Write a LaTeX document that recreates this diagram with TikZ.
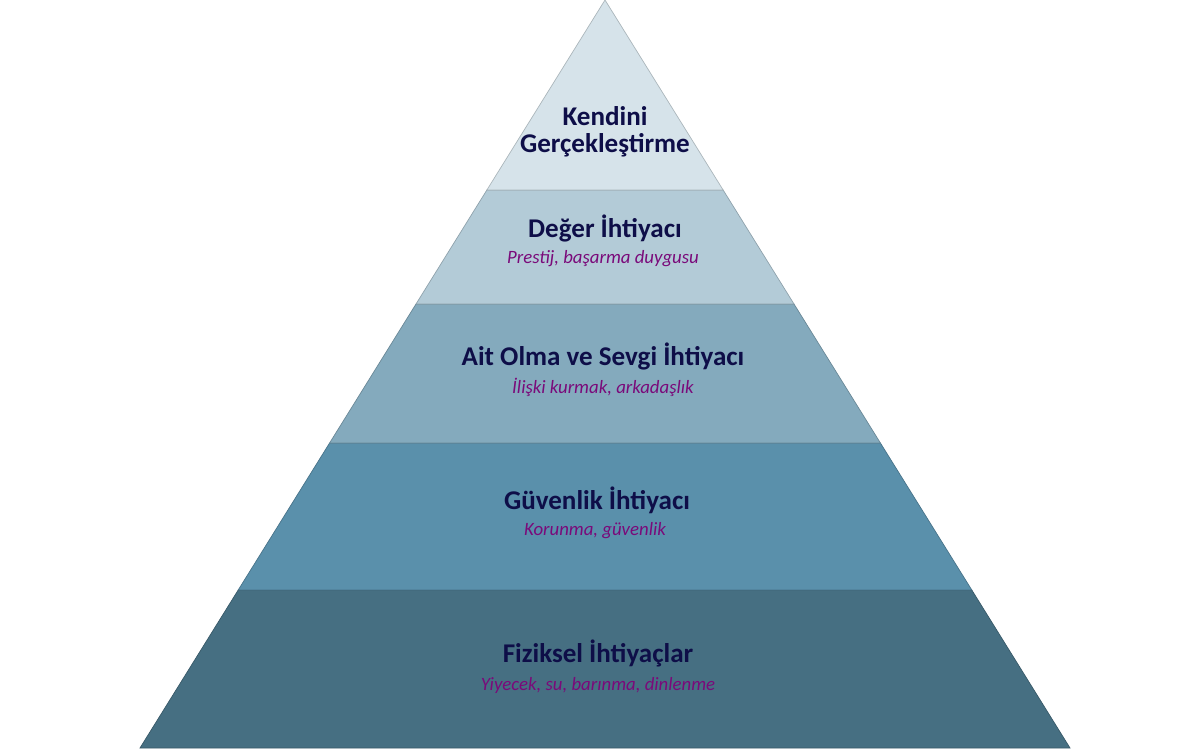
\documentclass[tikz,border=0pt]{standalone}
\usepackage{fontspec}
\setmainfont{Carlito}
\usetikzlibrary{positioning,calc}
\definecolor{levelA}{HTML}{D6E3EA}
\definecolor{levelB}{HTML}{B3CBD7}
\definecolor{levelC}{HTML}{84AABD}
\definecolor{levelD}{HTML}{5A90AB}
\definecolor{levelE}{HTML}{466F82}
\definecolor{titleblue}{HTML}{0E0E48}
\definecolor{notepurple}{HTML}{7A0A7A}
\tikzstyle{layer} = [draw=black!20!#1,line width=0.4pt,fill=#1]
\tikzstyle{title} = [font=\bfseries\fontsize{15.4}{15.4}\selectfont,text=titleblue,align=center,inner sep=0pt]
\tikzstyle{note} = [font=\itshape\fontsize{10.7}{12}\selectfont,text=notepurple,inner sep=0pt]

\begin{document}
\begin{tikzpicture}[x=0.02cm,y=-0.02cm]
    \useasboundingbox (0,0) rectangle (1200,749);
    % corners of the pyramid
    \coordinate (apex) at (605,0);
    \coordinate (bl) at (140,748);
    \coordinate (br) at (1070,748);

    \path[layer=levelE] ($(apex)!590/748!(bl)$) -- ($(apex)!590/748!(br)$) -- (br) -- (bl) -- cycle;
    \path[layer=levelD] ($(apex)!443/748!(bl)$) -- ($(apex)!443/748!(br)$) -- ($(apex)!590/748!(br)$) -- ($(apex)!590/748!(bl)$) -- cycle;
    \path[layer=levelC] ($(apex)!304/748!(bl)$) -- ($(apex)!304/748!(br)$) -- ($(apex)!443/748!(br)$) -- ($(apex)!443/748!(bl)$) -- cycle;
    \path[layer=levelB] ($(apex)!190/748!(bl)$) -- ($(apex)!190/748!(br)$) -- ($(apex)!304/748!(br)$) -- ($(apex)!304/748!(bl)$) -- cycle;
    \path[layer=levelA] (apex) -- ($(apex)!190/748!(br)$) -- ($(apex)!190/748!(bl)$) -- cycle;

    \node[title] (self) at (605,132) {Kendini\\Gerçekleştirme};
    \node[title] (esteem) at (605,228) {Değer İhtiyacı};
    \node[note] (esteemnote) at (603,259) {Prestij, başarma duygusu};
    \node[title] (love) at (603,356) {Ait Olma ve Sevgi İhtiyacı};
    \node[note] (lovenote) at (603,387) {İlişki kurmak, arkadaşlık};
    \node[title] (safety) at (597,500) {Güvenlik İhtiyacı};
    \node[note] (safetynote) at (595,531) {Korunma, güvenlik};
    \node[title] (body) at (598,653) {Fiziksel İhtiyaçlar};
    \node[note] (bodynote) at (598,685) {Yiyecek, su, barınma, dinlenme};
\end{tikzpicture}
\end{document}
